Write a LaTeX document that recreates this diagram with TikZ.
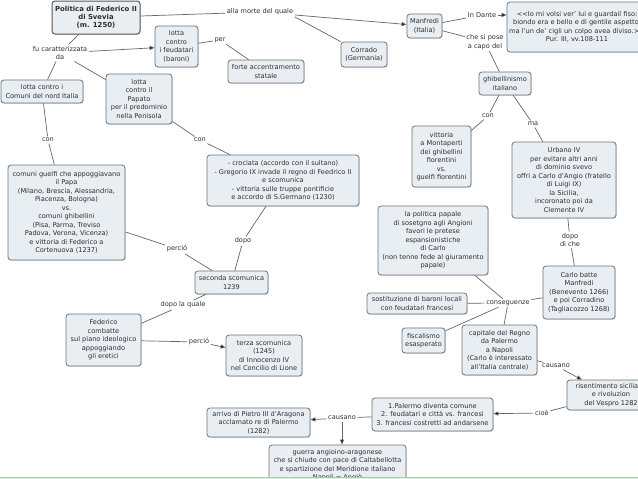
\documentclass[tikz,border=0pt]{standalone}
\usepackage{fontspec}
\setmainfont{DejaVu Sans}
\usetikzlibrary{arrows.meta,shadows}
\definecolor{boxfill}{HTML}{E8EEF2}
\definecolor{boxline}{HTML}{69757E}
\definecolor{lnc}{HTML}{666666}
\definecolor{txt}{HTML}{2E2E2E}
\definecolor{greenfill}{HTML}{D9F3D9}
\definecolor{greenline}{HTML}{92DB92}
\begin{document}
\begin{tikzpicture}[x=1pt,y=-1pt,
  box/.style={draw=boxline, fill=boxfill, rounded corners=3pt, line width=0.8pt, align=center, inner sep=1.5pt, font=\fontsize{6.6}{8.5}\selectfont, text=txt, drop shadow={shadow xshift=0.8pt, shadow yshift=-0.8pt, opacity=0.25}},
  lab/.style={align=center, inner sep=1.5pt, font=\fontsize{6.6}{8.5}\selectfont, text=txt},
  cline/.style={draw=lnc, line width=0.7pt},
  arr/.style={cline, -{Triangle[length=5pt,width=4pt,fill=black]}},
]
\clip (0,0) rectangle (638,479);
\fill[white] (0,0) rectangle (638,479);

% boxes
\node[box, font=\bfseries\fontsize{6.9}{8.3}\selectfont, line width=1pt, draw=black!65, minimum width=88pt, minimum height=33pt] (title) at (96,17.5) {Politica di Federico II\\di Svevia\\(m. 1250)};
\node[box, minimum width=35pt, minimum height=24pt] (manf) at (424.5,26) {Manfredi\\(Italia)};
\node[box, minimum width=46pt, minimum height=25pt] (corrado) at (364,54.5) {Corrado\\(Germania)};
\node[box, minimum width=140pt, minimum height=50pt] (quote) at (577,27) {<{}<Io mi volsi ver' lui e guardail fiso:\\biondo era e bello e di gentile aspetto,\\ma l'un de' cigli un colpo avea diviso.>{}>\\Pur. III, vv.108-111};
\node[box, minimum width=52pt, minimum height=23pt] (ghib) at (505,83.5) {ghibellinismo\\italiano};
\node[box, minimum width=59pt, minimum height=61pt] (vitt) at (441.5,156.5) {vittoria\\a Montaperti\\dei ghibellini\\fiorentini\\vs.\\guelfi fiorentini};
\node[box, minimum width=104pt, minimum height=76pt] (urbano) at (564,180) {Urbano IV\\per evitare altri anni\\di dominio svevo\\offri a Carlo d'Angio (fratello\\di Luigi IX)\\la Sicilia,\\incoronato poi da\\Clemente IV};
\node[box, minimum width=72pt, minimum height=53pt] (carlo) at (579,292.5) {Carlo batte\\Manfredi\\(Benevento 1266)\\e poi Corradino\\(Tagliacozzo 1268)};
\node[box, minimum width=110pt, minimum height=69pt] (politica) at (433,240.5) {la politica papale\\di sosetgno agli Angioni\\favori le pretese\\espansionistiche\\di Carlo\\(non tenne fede al giuramento\\papale)};
\node[box, minimum width=100pt, minimum height=21pt] (sost) at (417,303.5) {sostituzione di baroni locali\\con feudatari francesi};
\node[box, minimum width=43pt, minimum height=25pt] (fisc) at (423.5,340.5) {fiscalismo\\esasperato};
\node[box, minimum width=75pt, minimum height=50pt] (capitale) at (499.5,350) {capitale del Regno\\da Palermo\\a Napoli\\(Carlo è interessato\\all'Italia centrale)};
\node[box, minimum width=88pt, minimum height=30pt] (risent) at (611,395) {risentimento siciliano\\e rivoluzion\\del Vespro 1282};
\node[box, minimum width=121pt, minimum height=33pt] (palermo) at (432.5,414.5) {1.Palermo diventa comune\\2. feudatari e città vs. francesi\\3. francesi costretti ad andarsene};
\node[box, minimum width=103pt, minimum height=29pt] (arrivo) at (258.5,422.5) {arrivo di Pietro III d'Aragona\\acclamato re di Palermo\\(1282)};
\node[box, minimum width=137pt, minimum height=40pt] (guerra) at (337.5,465) {guerra angioino-aragonese\\che si chiude con pace di Caltabellotta\\e spartizione del Meridione italiano\\Napoli = Angiò};
\node[box, minimum width=43pt, minimum height=41pt] (feud) at (176.5,46.5) {lotta\\contro\\i feudatari\\(baroni)};
\node[box, minimum width=76pt, minimum height=23pt] (forte) at (266,71.5) {forte accentramento\\statale};
\node[box, minimum width=82pt, minimum height=23pt] (comuni) at (42,91.5) {lotta contro i\\Comuni del nord Italia};
\node[box, minimum width=66pt, minimum height=50pt] (papato) at (139,99) {lotta\\contro il\\Papato\\per il predominio\\nella Penisola};
\node[box, minimum width=117pt, minimum height=95pt] (guelfi) at (66.5,212.5) {comuni guelfi che appoggiavano\\il Papa\\(Milano, Brescia, Alessandria,\\Piacenza, Bologna)\\vs.\\comuni ghibellini\\(Pisa, Parma, Treviso\\Padova, Verona, Vicenza)\\e vittoria di Federico a\\Cortenuova (1237)};
\node[box, minimum width=152pt, minimum height=51pt] (crociata) at (283,180.5) {- crociata (accordo con il sultano)\\- Gregorio IX invade il regno di Feedrico II\\e scomunica\\- vittoria sulle truppe pontificie\\e accordo di S.Germano (1230)};
\node[box, minimum width=73pt, minimum height=23pt] (seconda) at (231.5,282.5) {seconda scomunica\\1239};
\node[box, minimum width=75pt, minimum height=52pt] (federico) at (103.5,340) {Federico\\combatte\\sul piano ideologico\\appoggiando\\gli eretici};
\node[box, minimum width=76pt, minimum height=41pt] (terza) at (264,355.5) {terza scomunica\\(1245)\\di Innocenzo IV\\nel Concilio di Lione};

% labels
\node[lab] (alla) at (260,12) {alla morte del quale};
\node[lab] (indante) at (482,15) {In Dante};
\node[lab] (chesipose) at (485,42) {che si pose\\a capo del};
\node[lab] (con3) at (488,116) {con};
\node[lab] (ma) at (533,124) {ma};
\node[lab] (dopodiche) at (570,240) {dopo\\di che};
\node[lab] (consegue) at (508,303) {conseguenze};
\node[lab] (causanoa) at (556,366) {causano};
\node[lab] (cioe) at (542,413) {cioè};
\node[lab] (causanob) at (342,418) {causano};
\node[lab] (fucar) at (60,53) {fu caratterizzata\\da};
\node[lab] (per) at (220,40) {per};
\node[lab] (cona) at (48,140) {con};
\node[lab] (conb) at (200,140) {con};
\node[lab] (dopo) at (243,241) {dopo};
\node[lab] (percioa) at (177,249) {perció};
\node[lab] (dopolq) at (183,305) {dopo la quale};
\node[lab] (perciob) at (199,342) {perció};

% connectors
\draw[cline] (title) -- (alla);
\draw[arr] (alla) -- (manf);
\draw[cline] (alla.south east) -- (corrado.north west);
\draw[cline] (manf) -- (indante);
\draw[arr] (indante) -- (indante -| quote.west);
\draw[cline] (manf) -- (chesipose);
\draw[cline] (chesipose) -- (ghib);
\draw[cline] (ghib) -- (con3);
\draw[cline] (con3) -- (vitt);
\draw[cline] (ghib) -- (ma);
\draw[cline] (ma) -- (urbano);
\draw[cline] (urbano) -- (dopodiche);
\draw[cline] (dopodiche) -- (carlo);
\draw[cline] (carlo) -- (consegue);
\draw[cline] (politica) -- (consegue);
\draw[cline] (sost) -- (consegue);
\draw[cline] (consegue) -- (fisc);
\draw[cline] (consegue) -- (capitale);
\draw[cline] (capitale) -- (causanoa);
\draw[arr] (causanoa) -- (risent);
\draw[cline] (risent) -- (cioe);
\draw[arr] (cioe) -- (palermo);
\draw[cline] (palermo) -- (causanob);
\draw[arr] (causanob) -- (arrivo);
\draw[arr] (causanob) -- (causanob |- guerra.north);
\draw[cline] (title) -- (fucar);
\draw[arr] (fucar) -- (feud);
\draw[cline] (fucar) -- (comuni);
\draw[cline] (fucar) -- (papato);
\draw[cline] (feud) -- (per);
\draw[cline] (per) -- (forte);
\draw[cline] (comuni) -- (cona);
\draw[cline] (cona) -- (guelfi);
\draw[cline] (papato) -- (conb);
\draw[cline] (conb) -- (crociata);
\draw[cline] (crociata) -- (dopo);
\draw[cline] (dopo) -- (seconda);
\draw[cline] (guelfi) -- (percioa);
\draw[cline] (percioa) -- (seconda);
\draw[cline] (seconda) -- (dopolq);
\draw[cline] (dopolq) -- (federico);
\draw[cline] (federico) -- (perciob);
\draw[arr] (perciob) -- (terza);

% green strip at the bottom
\fill[greenfill] (0,477.5) rectangle (638,479);
\draw[greenline, line width=0.8pt] (0,477.5) -- (638,477.5);
\end{tikzpicture}
\end{document}
